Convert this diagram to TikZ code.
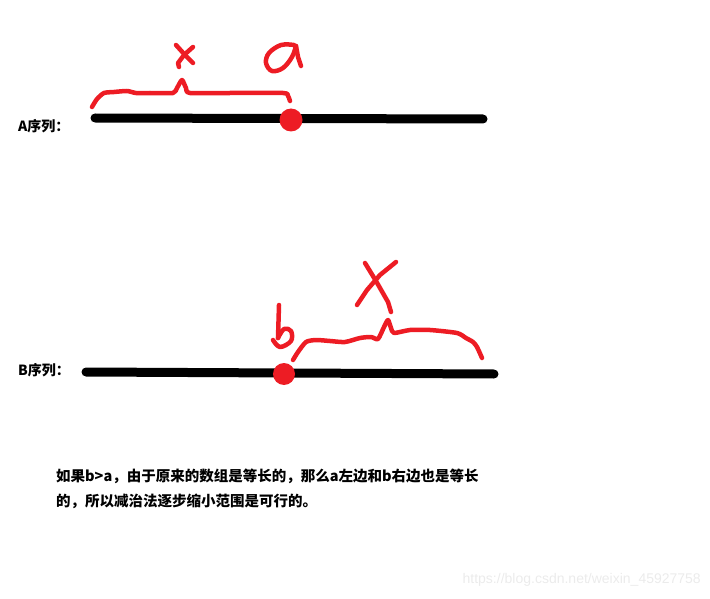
\documentclass[tikz,border=0pt]{standalone}
\usepackage{fontspec}
\usepackage{tikz}
\newfontfamily\cjk{Noto Sans CJK SC}
\newfontfamily\urlfont{Liberation Sans}
\definecolor{paintred}{HTML}{ED1C24}

\begin{document}
\begin{tikzpicture}[x=1pt,y=-1pt,
		seq/.style={line width=9pt,line cap=round},
		pen/.style={paintred,line width=4.5pt,line cap=round,line join=round},
		blob/.style={circle,fill=paintred,inner sep=0pt},
		lbl/.style={font=\cjk\bfseries\fontsize{14}{16}\selectfont,anchor=west,inner sep=0pt}]
			\useasboundingbox (0,0) rectangle (710,599);
			% sequence A
			\node[lbl] (labelA) at (18,126) {A序列：};
			\coordinate (a0) at (95,118);
			\coordinate (a1) at (483,119);
			\draw[seq] (a0) -- (a1);
			\node[blob,minimum size=23pt] (dotA) at (291,120) {};
			\draw[pen] plot[smooth,tension=0.4] coordinates {(92,107) (97,99) (104,93) (114,92) (127,91) (136,93) (150,93) (173,93) (177,88) (182,80) (186,88) (190,93) (230,93) (283,93) (288,96) (290,101)};
			\draw[pen] (176,45) -- (185,55) -- (193,63);
			\draw[pen] (193,47) -- (184,55) -- (178,63) -- (179,67);
			\draw[pen] plot[smooth,tension=0.6] coordinates {(294,45) (281,45) (269,53) (266,63) (272,71) (283,68) (292,57) (296,46)};
			\draw[pen] (296,46) -- (298,57) -- (301,66);
			% sequence B
			\node[lbl] (labelB) at (18,370) {B序列：};
			\coordinate (b0) at (86,372);
			\coordinate (b1) at (494,374);
			\draw[seq] (b0) -- (b1);
			\node[blob,minimum size=22pt] (dotB) at (284,374) {};
			\draw[pen] (279,305) -- (278,338);
			\draw[pen] plot[smooth,tension=0.6] coordinates {(278,338) (284,329) (291,331) (291,341) (280,347) (273,340)};
			\draw[pen] plot[smooth,tension=0.4] coordinates {(293,360) (298,352) (306,342) (316,340) (330,341) (345,342) (360,338) (371,337) (378,339) (384,327) (388,320) (391,328) (394,333) (410,330) (430,330) (457,333) (466,338) (473,342) (477,347) (482,358)};
			\draw[pen] (365,263) -- (376,281) -- (388,302) -- (391,312);
			\draw[pen] (396,262) -- (380,275) -- (367,290) -- (357,305);
			% note
			\node[font=\cjk\bfseries\fontsize{14.5}{25}\selectfont,align=left,anchor=north west,inner sep=0pt] (note) at (56,469)
				{如果b>a，由于原来的数组是等长的，那么a左边和b右边也是等长\\的，所以减治法逐步缩小范围是可行的。};
			\node[font=\urlfont\fontsize{14}{16}\selectfont,text=black!8,anchor=east,inner sep=0pt] (url) at (701,580) {https://blog.csdn.net/weixin\_45927758};
		\end{tikzpicture}
\end{document}
